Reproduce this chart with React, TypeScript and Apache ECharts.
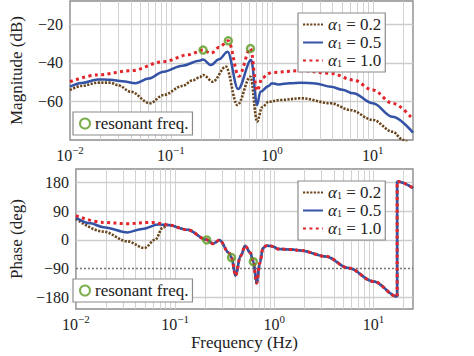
import React, { useEffect, useRef } from 'react';
import * as echarts from 'echarts';

const FONT = "'Liberation Serif', 'DejaVu Serif', serif";
const BROWN = '#6a451b';
const BLUE = '#3553a6';
const RED = '#e3242b';
const GREEN = '#5c9a22';
const FRAME = '#8c8c8c';
const GRIDC = '#d2d2d2';
const HGRIDC = '#cdcdcd';

const alphaNames = ['α1 = 0.2', 'α1 = 0.5', 'α1 = 1.0'];
const resonantName = 'resonant freq.';

const xRange = [0.01, 25];
const xGridValues = [
  0.02, 0.03, 0.04, 0.05, 0.06, 0.07, 0.08, 0.09, 0.1,
  0.2, 0.3, 0.4, 0.5, 0.6, 0.7, 0.8, 0.9, 1,
  2, 3, 4, 5, 6, 7, 8, 9, 10, 20,
];
const magRange = [-80, -8];
const magTicks = [-60, -40, -20];
const phaseRange = [-216, 222];
const phaseTicks = [-180, -90, 0, 90, 180];
const phaseRef = [-90];

// ---- Magnitude (dB)
const magFreq02 = [0.01, 0.013, 0.0189, 0.025, 0.0296, 0.0401, 0.0617, 0.0845, 0.13, 0.166, 0.193, 0.208, 0.26, 0.35, 0.455, 0.614, 0.714, 0.8, 0.93, 1.2, 1.96, 3.85, 6.0, 10, 15.7, 20, 25];
const mag02 = [-54.1, -52, -50.3, -50.3, -51.5, -55, -61, -56.7, -52, -49, -47.5, -46.3, -49.8, -42, -61.9, -47.2, -70.5, -63, -60.2, -59.3, -58.4, -61, -64.5, -69.6, -75.7, -80, -84];

const magFreq05 = [0.01, 0.013, 0.0189, 0.025, 0.033, 0.0448, 0.06, 0.0845, 0.13, 0.19, 0.208, 0.249, 0.3, 0.364, 0.4625, 0.624, 0.714, 0.769, 0.93, 1.0, 1.16, 1.5, 1.96, 2.7, 3.85, 5.0, 6.4, 10, 15.7, 25];
const mag05 = [-52.4, -50.5, -48.6, -48.8, -49.6, -50.6, -48.2, -44.6, -41.5, -39, -38.3, -41.2, -38.2, -34.3, -53.6, -38.6, -61.9, -55, -52, -50.6, -51.2, -50.6, -50.3, -50.7, -52.4, -54, -55.8, -61, -68, -76.2];

const magFreq10 = [0.01, 0.0189, 0.0401, 0.0845, 0.15, 0.208, 0.25, 0.3, 0.37, 0.47, 0.614, 0.714, 0.8, 0.93, 1.0, 1.96, 3.85, 6.4, 10, 15.7, 25];
const mag10 = [-49.8, -46.3, -44.1, -39.4, -35.8, -33.4, -35.1, -32, -28.6, -47, -32.6, -54.5, -48, -45.5, -45, -44.1, -45.5, -48.9, -54.1, -61, -69.3];

const resFreq = [0.208, 0.37, 0.614];
const resMag = [-33.4, -28.6, -32.6];
const resPhase = [0, -55, -68];

// ---- Phase (deg)
const phaseFreqLow02 = [0.01, 0.0189, 0.0331, 0.049, 0.063, 0.075];
const phaseLow02 = [66, 26, -4.4, -25.2, 0.8, 38];
const phaseFreqLow05 = [0.01, 0.014, 0.0189, 0.0331, 0.0464, 0.0675];
const phaseLow05 = [70, 52, 40, 23.7, 34.3, 48];
const phaseFreqLow10 = [0.01, 0.0189, 0.0331, 0.058, 0.075];
const phaseLow10 = [76, 55, 50.8, 55, 51];
const phaseFreqShared = [0.0845, 0.133, 0.208, 0.241, 0.28, 0.35, 0.37, 0.407, 0.455, 0.509, 0.57, 0.614, 0.663, 0.714, 0.769, 0.83, 0.93, 1.0, 1.07, 1.5, 1.83, 3.3, 5.6, 10, 17.3, 17.3, 25];
const phaseShared = [47, 32, 0.8, -11.7, -0.4, -40.8, -55, -112, -51, -18.6, -39, -67, -135, -72, -25, -18, -19, -22, -28, -30, -32.7, -51.5, -87.8, -129.7, -177, 183, 162.6];

const zip = (f: number[], v: number[]) => f.map((x, i) => [x, v[i]]);

const fmtNum = (v: number) => (v < 0 ? '\u2212' + Math.abs(v) : String(v));

export default function App() {
  const ref = useRef<HTMLDivElement>(null);
  useEffect(() => {
    if (!ref.current) return;
    const chart = echarts.init(ref.current, undefined, { renderer: 'svg' });

    const xAxisBase = (gridIndex: number, withName: boolean) => ({
      type: 'log',
      logBase: 10,
      gridIndex,
      min: xRange[0],
      max: xRange[1],
      axisLine: { show: false },
      axisTick: { show: false },
      splitLine: { show: false },
      name: withName ? 'Frequency (Hz)' : '',
      nameLocation: 'middle',
      nameGap: 25,
      nameTextStyle: { fontFamily: FONT, fontSize: 17, color: '#222' },
      axisLabel: {
        margin: 4,
        formatter: (v: number) => {
          const e = Math.log10(v);
          const r = Math.round(e);
          if (Math.abs(e - r) > 1e-6) return '';
          return `{b|10}{s|${fmtNum(r)}}`;
        },
        rich: {
          b: { fontSize: 16, fontFamily: FONT, lineHeight: 19, verticalAlign: 'bottom', color: '#222' },
          s: { fontSize: 11, fontFamily: FONT, lineHeight: 11, verticalAlign: 'top', color: '#222' },
        },
      },
    });

    const yAxisBase = (gridIndex: number, name: string, range: number[], ticks: number[]) => ({
      type: 'value',
      gridIndex,
      min: range[0],
      max: range[1],
      axisLine: { show: false },
      axisTick: { show: false },
      splitLine: { show: false },
      name,
      nameLocation: 'middle',
      nameGap: 45,
      nameTextStyle: { fontFamily: FONT, fontSize: 17, color: '#222' },
      axisLabel: { customValues: ticks, margin: 7, fontFamily: FONT, fontSize: 16, color: '#222', formatter: (v: number) => fmtNum(v) },
    });

    const lineCommon = { type: 'line', symbol: 'none', showSymbol: false, smooth: 0.35, smoothMonotone: 'x', z: 2 };
    const markBase = {
      silent: true,
      symbol: ['none', 'none'],
      label: { show: false },
      z: 1,
      animation: false,
    };
    const vGridMark = (yRange: number[]) => ({
      ...markBase,
      lineStyle: { color: GRIDC, width: 1, type: 'solid' },
      data: xGridValues.map((v) => [{ coord: [v, yRange[0]] }, { coord: [v, yRange[1]] }]),
    });
    const hGridMark = (yVals: number[]) => ({
      ...markBase,
      lineStyle: { color: HGRIDC, width: 1.4, type: [2000, 1] },
      data: yVals.map((v) => ({ yAxis: v })),
    });

    const brownStyle = { color: BROWN, width: 2.6, type: [2.2, 1.4], cap: 'butt' };
    const blueStyle = { color: BLUE, width: 2.5, type: 'solid' };
    const redStyle = { color: RED, width: 3, type: [3, 3.4], cap: 'butt' };

    const legendCommon = {
      orient: 'vertical',
      backgroundColor: '#fff',
      borderColor: FRAME,
      borderWidth: 1.2,
      borderRadius: 0,
      selectedMode: false,
      itemGap: 1,
      itemWidth: 20,
      itemHeight: 10,
      textStyle: { fontFamily: FONT, fontSize: 16, color: '#222' },
    };
    const alphaLegend = (top: number) => ({
      ...legendCommon,
      data: alphaNames,
      left: 298,
      top,
      padding: [3, 4, 3, 4],
      itemStyle: { opacity: 0, color: 'rgba(0,0,0,0)', borderWidth: 0 },
      formatter: (name: string) => `{a|α}{s|1}{t| = ${name.split('= ')[1]}}`,
      textStyle: {
        fontFamily: FONT,
        fontSize: 16,
        color: '#222',
        rich: {
          a: { fontFamily: FONT, fontSize: 17, fontStyle: 'italic', lineHeight: 15, color: '#222' },
          s: { fontFamily: FONT, fontSize: 10, lineHeight: 8, verticalAlign: 'bottom', color: '#222' },
          t: { fontFamily: FONT, fontSize: 17, lineHeight: 15, color: '#222' },
        },
      },
    });
    const resLegend = (top: number) => ({
      ...legendCommon,
      data: [resonantName],
      left: 73,
      top,
      padding: [3, 4, 3, 6],
      itemWidth: 10,
      itemHeight: 10,
      textStyle: { fontFamily: FONT, fontSize: 17, color: '#222' },
    });

    const resSeries = (xi: number, vals: number[]) => ({
      name: resonantName,
      type: 'scatter',
      xAxisIndex: xi,
      yAxisIndex: xi,
      symbol: 'circle',
      symbolSize: 7,
      z: 5,
      itemStyle: { color: 'rgba(0,0,0,0)', borderColor: GREEN, borderWidth: 2.5 },
      data: zip(resFreq, vals),
    });

    chart.setOption({
      animation: false,
      backgroundColor: '#fff',
      grid: [
        { left: 65, top: 1, width: 348, height: 139, show: true, borderColor: FRAME, borderWidth: 1.4, backgroundColor: 'transparent' },
        { left: 65, top: 169, width: 348, height: 140, show: true, borderColor: FRAME, borderWidth: 1.4, backgroundColor: 'transparent' },
      ],
      xAxis: [xAxisBase(0, false), xAxisBase(1, true)],
      yAxis: [
        yAxisBase(0, 'Magnitude (dB)', magRange, magTicks),
        yAxisBase(1, 'Phase (deg)', phaseRange, phaseTicks),
      ],
      legend: [alphaLegend(13), resLegend(112), alphaLegend(181), resLegend(279)],
      series: [
        { ...lineCommon, name: alphaNames[0], xAxisIndex: 0, yAxisIndex: 0, lineStyle: brownStyle, itemStyle: { color: BROWN }, data: zip(magFreq02, mag02), markLine: vGridMark(magRange) },
        { ...lineCommon, name: alphaNames[1], xAxisIndex: 0, yAxisIndex: 0, lineStyle: blueStyle, itemStyle: { color: BLUE }, data: zip(magFreq05, mag05), markLine: hGridMark(magTicks) },
        { ...lineCommon, name: alphaNames[2], xAxisIndex: 0, yAxisIndex: 0, lineStyle: redStyle, itemStyle: { color: RED }, data: zip(magFreq10, mag10) },
        resSeries(0, resMag),
        {
          ...lineCommon, name: alphaNames[0], xAxisIndex: 1, yAxisIndex: 1, lineStyle: brownStyle, itemStyle: { color: BROWN },
          data: zip([...phaseFreqLow02, ...phaseFreqShared], [...phaseLow02, ...phaseShared]),
          markLine: vGridMark(phaseRange),
        },
        {
          ...lineCommon, name: alphaNames[1], xAxisIndex: 1, yAxisIndex: 1, lineStyle: blueStyle, itemStyle: { color: BLUE },
          data: zip([...phaseFreqLow05, ...phaseFreqShared], [...phaseLow05, ...phaseShared]),
          markLine: hGridMark(phaseTicks.filter((v) => v !== phaseRef[0])),
        },
        {
          ...lineCommon, name: alphaNames[2], xAxisIndex: 1, yAxisIndex: 1, lineStyle: redStyle, itemStyle: { color: RED },
          data: zip([...phaseFreqLow10, ...phaseFreqShared], [...phaseLow10, ...phaseShared]),
          markLine: {
            ...markBase,
            lineStyle: { color: '#707070', width: 1.4, type: [2, 2] },
            data: phaseRef.map((v) => ({ yAxis: v })),
          },
        },
        resSeries(1, resPhase),
      ],
    });
    return () => chart.dispose();
  }, []);
  return <div ref={ref} style={{ position: 'fixed', left: 0, top: 0, width: 474, height: 356 }} />;
}
